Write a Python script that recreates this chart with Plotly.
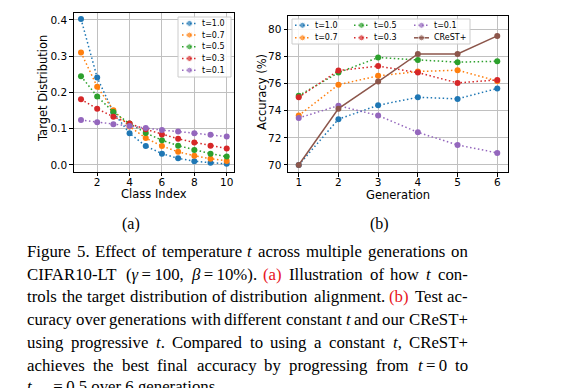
import re
import plotly.graph_objects as go

# ---------------- data ----------------
class_index = [1, 2, 3, 4, 5, 6, 7, 8, 9, 10]
t_labels = ["t=1.0", "t=0.7", "t=0.5", "t=0.3", "t=0.1"]
dist_t10 = [0.403, 0.241, 0.145, 0.087, 0.052, 0.031, 0.018, 0.010, 0.006, 0.003]
dist_t07 = [0.310, 0.216, 0.151, 0.106, 0.074, 0.052, 0.036, 0.025, 0.017, 0.011]
dist_t05 = [0.245, 0.189, 0.146, 0.114, 0.088, 0.068, 0.053, 0.041, 0.031, 0.023]
dist_t03 = [0.181, 0.155, 0.133, 0.114, 0.098, 0.084, 0.072, 0.062, 0.053, 0.045]
dist_t01 = [0.124, 0.118, 0.112, 0.107, 0.102, 0.096, 0.092, 0.087, 0.083, 0.078]

generation = [1, 2, 3, 4, 5, 6]
acc_t10 = [70.0, 73.38, 74.41, 75.0, 74.88, 75.65]
acc_t07 = [73.65, 75.93, 76.58, 76.9, 77.0, 76.2]
acc_t05 = [75.12, 76.82, 77.93, 77.76, 77.59, 77.66]
acc_t03 = [75.0, 76.97, 77.3, 76.82, 76.06, 76.28]
acc_t01 = [73.47, 74.38, 73.65, 72.41, 71.48, 70.89]
acc_crest = [70.0, 74.16, 76.16, 78.2, 78.2, 79.53]
crest_label = "CReST+"

left_ticks = [2, 4, 6, 8, 10]
left_yticks = [0.0, 0.1, 0.2, 0.3, 0.4]
right_ticks = [1, 2, 3, 4, 5, 6]
right_yticks = [70, 72, 74, 76, 78, 80]

caption_lines = [
    ["Figure", "5.", "Effect", "of", "temperature", "<i>t</i>", "across", "multiple", "generations", "on"],
    ["CIFAR10-LT", "(<i>γ</i>\u2009=\u2009100,", "<i>β</i>\u2009=\u200910%).", "<span style='color:#e8141c'>(a)</span>",
     "Illustration", "of", "how", "<i>t</i>", "con-"],
    ["trols", "the", "target", "distribution", "of", "distribution", "alignment.",
     "<span style='color:#e8141c'>(b)</span>", "Test", "ac-"],
    ["curacy", "over", "generations", "with", "different", "constant", "<i>t</i>", "and", "our", "CReST+"],
    ["using", "progressive", "<i>t</i>.", "Compared", "to", "using", "a", "constant", "<i>t</i>,", "CReST+"],
    ["achieves", "the", "best", "final", "accuracy", "by", "progressing", "from", "<i>t</i>\u2009=\u20090", "to"],
]
caption_last = "<i>t</i><sub>min</sub>\u2009=\u20090.5 over 6 generations."

# ---------------- styling ----------------
W, H = 571, 388
colors = ["#1f77b4", "#ff7f0e", "#2ca02c", "#d62728", "#9467bd", "#8c564b"]
DOT = "1.5px,2.5px"
sans = "DejaVu Sans"
serif = "Liberation Serif"

fig = go.Figure()

left_series = [dist_t10, dist_t07, dist_t05, dist_t03, dist_t01]
for lab, ys, c in zip(t_labels, left_series, colors):
    fig.add_trace(go.Scatter(x=class_index, y=ys, name=lab, mode="lines+markers",
                             line=dict(color=c, width=1.5, dash=DOT),
                             marker=dict(color=c, size=6),
                             xaxis="x", yaxis="y"))

right_series = [acc_t10, acc_t07, acc_t05, acc_t03, acc_t01]
for lab, ys, c in zip(t_labels, right_series, colors):
    fig.add_trace(go.Scatter(x=generation, y=ys, name=lab, mode="lines+markers",
                             line=dict(color=c, width=1.5, dash=DOT),
                             marker=dict(color=c, size=6),
                             xaxis="x2", yaxis="y2"))
fig.add_trace(go.Scatter(x=generation, y=acc_crest, name=crest_label, mode="lines+markers",
                         line=dict(color=colors[5], width=1.5),
                         marker=dict(color=colors[5], size=6),
                         xaxis="x2", yaxis="y2"))


def px(x):
    return x / W


def py(y):
    return 1 - y / H


# ---------------- legends (drawn on a pixel-unit overlay axis) ----------------
def legend_box(x0, y0, x1, y1):
    fig.add_shape(type="rect", xref="x3", yref="y3", x0=x0, x1=x1, y0=y0, y1=y1, layer="below",
                  line=dict(color="#cccccc", width=1), fillcolor="rgba(255,255,255,0.85)")


def legend_entry(label, color, dash, xs, yc):
    fig.add_trace(go.Scatter(x=[xs, xs + 7.5, xs + 15], y=[yc, yc, yc], mode="lines+markers",
                             line=dict(color=color, width=1.5, dash=dash),
                             marker=dict(color=color, size=[0, 6, 0]),
                             xaxis="x3", yaxis="y3", hoverinfo="skip"))
    fig.add_annotation(text=label, x=px(xs + 20), y=py(yc), xref="paper", yref="paper",
                       showarrow=False, xanchor="left", yanchor="middle", borderpad=0, borderwidth=0,
                       font=dict(family=sans, size=8, color="black"))


legend_box(178, 17, 231, 77)
for i, (lab, c) in enumerate(zip(t_labels, colors)):
    legend_entry(lab, c, DOT, 182, 23.4 + i * 11.7)

legend_box(292, 19, 470, 44)
right_labels = t_labels + [crest_label]
right_dash = [DOT] * 5 + ["solid"]
col_x = [295, 354, 414]
for i, (lab, c, d) in enumerate(zip(right_labels, colors, right_dash)):
    legend_entry(lab, c, d, col_x[i // 2], 25.3 + (i % 2) * 12.5)

tickfont = dict(family=sans, size=10.5, color="black")
ax = dict(showline=True, mirror=True, linecolor="black", linewidth=1,
          ticks="outside", ticklen=3.5, tickwidth=1, tickcolor="black",
          showgrid=True, gridcolor="#c0c0c0", gridwidth=1, zeroline=False,
          tickfont=tickfont)

fig.update_layout(
    width=W, height=H, margin=dict(l=0, r=0, t=0, b=0),
    paper_bgcolor="white", plot_bgcolor="rgba(0,0,0,0)", showlegend=False,
    xaxis=dict(ax, domain=[px(73.7), px(234)], range=[0.55, 10.45], tickvals=left_ticks, anchor="y",
               ticklabelstandoff=-3),
    yaxis=dict(ax, domain=[py(171.5), py(12.7)], range=[-0.0183, 0.4201], tickvals=left_yticks,
               tickformat=".1f", anchor="x"),
    xaxis2=dict(ax, domain=[px(288), px(508)], range=[0.73, 6.27], tickvals=right_ticks, anchor="y2",
                ticklabelstandoff=-3),
    yaxis2=dict(ax, domain=[py(172), py(16)], range=[69.48, 81.0], tickvals=right_yticks, anchor="x2"),
    xaxis3=dict(domain=[0, 1], range=[0, W], visible=False, fixedrange=True, anchor="y3"),
    yaxis3=dict(domain=[0, 1], range=[H, 0], visible=False, fixedrange=True, anchor="x3"),
)

# ---------------- axis titles ----------------
for txt, x, y, ang in [("Class Index", 154, 194, 0), ("Generation", 398, 194.5, 0),
                       ("Target Distribution", 43, 88, -90), ("Accuracy (%)", 262, 92, -90)]:
    fig.add_annotation(text=txt, x=px(x), y=py(y), xref="paper", yref="paper", textangle=ang,
                       showarrow=False, xanchor="center", yanchor="middle", borderpad=0, borderwidth=0,
                       font=dict(family=sans, size=11.5, color="black"))

# ---------------- sub-figure labels ----------------
for lab, xc in [("(a)", 131), ("(b)", 379)]:
    fig.add_annotation(text=lab, x=px(xc), y=py(224), xref="paper", yref="paper",
                       showarrow=False, xanchor="center", yanchor="middle",
                       font=dict(family=serif, size=16, color="black"))

# ---------------- justified caption ----------------
TW = {" ": 250, "%": 833, "(": 333, ")": 333, "+": 564, ",": 250, "-": 333, ".": 250, "=": 564,
      ":": 278, "\u2009": 200, "γ": 411, "β": 500,
      "A": 722, "B": 667, "C": 667, "D": 722, "E": 611, "F": 556, "G": 722, "H": 722, "I": 333,
      "J": 389, "K": 722, "L": 611, "M": 889, "N": 722, "O": 722, "P": 556, "Q": 722, "R": 667,
      "S": 556, "T": 611, "U": 722, "V": 722, "W": 944, "X": 722, "Y": 722, "Z": 611,
      "a": 444, "b": 500, "c": 444, "d": 500, "e": 444, "f": 333, "g": 500, "h": 500, "i": 278,
      "j": 278, "k": 500, "l": 278, "m": 778, "n": 500, "o": 500, "p": 500, "q": 500, "r": 333,
      "s": 389, "t": 278, "u": 500, "v": 500, "w": 722, "x": 500, "y": 500, "z": 444}
FS = 16.8
X0, X1 = 27, 468
Y0, LEAD = 251.5, 22.7


def tw(s):
    plain = re.sub(r"<[^>]+>", "", s)
    return sum(TW.get(ch, 500) for ch in plain) / 1000 * FS


def add_word(text, x, y, anchor):
    fig.add_annotation(text=text, x=px(x), y=py(y), xref="paper", yref="paper",
                       showarrow=False, xanchor=anchor, yanchor="middle", borderpad=0, borderwidth=0,
                       font=dict(family=serif, size=FS, color="black"))


for li, words in enumerate(caption_lines):
    yc = Y0 + li * LEAD
    widths = [tw(w) for w in words]
    n = len(words)
    gap = (X1 - X0 - sum(widths)) / (n - 1)
    half = n // 2
    x = X0
    for wi in range(half):
        add_word(words[wi], x, yc, "left")
        x += widths[wi] + gap
    x = X1
    for wi in range(n - 1, half - 1, -1):
        add_word(words[wi], x, yc, "right")
        x -= widths[wi] + gap

add_word(caption_last, X0, Y0 + len(caption_lines) * LEAD, "left")

fig.write_html("out.html", config={"displayModeBar": False},
               post_script="document.body.style.margin='0px';")
